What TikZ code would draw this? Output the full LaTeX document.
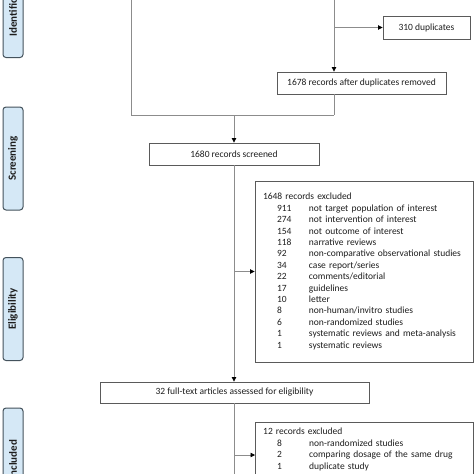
\documentclass[tikz,border=0pt]{standalone}
\usepackage{fontspec}
\setmainfont{Carlito}
\usetikzlibrary{arrows.meta,calc}
\definecolor{linegray}{HTML}{8C8C8C}
\definecolor{boxgray}{HTML}{5A5A5A}
\definecolor{phasefill}{HTML}{D5E8F6}
\definecolor{phaseedge}{HTML}{44525C}
\definecolor{txt}{HTML}{1E1E1E}
\newcommand{\itm}[2]{\hspace*{14pt}\makebox[32pt][l]{#1}#2}
\begin{document}
\begin{tikzpicture}[x=1pt,y=-1pt,
  box/.style={draw=boxgray, line width=0.9pt, fill=white, inner sep=0pt, text=txt,
    font=\fontsize{9.5}{11.4}\selectfont},
  listbox/.style={box, text width=202pt, align=left, inner xsep=8pt, inner ysep=0pt},
  listtext/.style={inner sep=0pt, text=txt, text width=202pt, align=left,
    font=\fontsize{9.5}{11.4}\selectfont},
  conn/.style={draw=linegray, line width=0.8pt},
  arrow/.style={conn, -{Triangle[length=4.5pt,width=4.5pt,color=black]}},
  phase/.style={draw=phaseedge, fill=phasefill, line width=1pt, rounded corners=3pt,
    rotate=90, minimum width=103pt, minimum height=20pt, inner sep=0pt, text=txt,
    font=\fontsize{11}{13}\selectfont\bfseries}]
\clip (0,0) rectangle (474,474);
\fill[white] (0,0) rectangle (474,474);

% phase labels
\node[phase] (p1) at (13,6) {Identification};
\node[phase] (p2) at (13,158.5) {Screening};
\node[phase] (p3) at (13,309) {Eligibility};
\node[phase] (p4) at (13,459.5) {Included};

% boxes
\node[box, minimum width=87pt, minimum height=23pt] (dup) at (426.5,27.5) {310 duplicates};
\node[box, minimum width=169pt, minimum height=22pt] (rem) at (361.5,83) {1678 records after duplicates removed};
\node[box, minimum width=170pt, minimum height=22pt] (scr) at (234,154) {1680 records screened};
\node[listbox, minimum height=181pt] (exa) at (364,271.5) {1648 records excluded\\
\itm{911}{not target population of interest}\\
\itm{274}{not intervention of interest}\\
\itm{154}{not outcome of interest}\\
\itm{118}{narrative reviews}\\
\itm{92}{non-comparative observational studies}\\
\itm{34}{case report/series}\\
\itm{22}{comments/editorial}\\
\itm{17}{guidelines}\\
\itm{10}{letter}\\
\itm{8}{non-human/invitro studies}\\
\itm{6}{non-randomized studies}\\
\itm{1}{systematic reviews and meta-analysis}\\
\itm{1}{systematic reviews}};
\node[box, minimum width=269pt, minimum height=21pt] (full) at (234.5,392.5) {32 full-text articles assessed for eligibility};
\node[box, minimum width=218pt, minimum height=90pt, anchor=north west] (exb) at (255,422) {};
\node[listtext, anchor=north west] (exbt) at ($(exb.north west)+(8,6)$) {12 records excluded\\
\itm{8}{non-randomized studies}\\
\itm{2}{comparing dosage of the same drug}\\
\itm{1}{duplicate study}};

% connectors
\coordinate (lt) at (131,-2);
\coordinate (rt) at (334,-2);
\coordinate (lb) at (131,115);
\coordinate (rb) at (334,115);
\coordinate (mid) at (234,115);
\coordinate (a2) at (234,455);
\coordinate (bot) at (234,480);
\draw[conn] (lt) -- (lb) -- (rb);
\draw[arrow] (rt) -- (rt |- rem.north);
\draw[arrow] (rt |- dup.west) -- (dup.west);
\draw[conn] (rt |- rem.south) -- (rb);
\draw[arrow] (mid) -- (scr.north);
\draw[arrow] (scr.south) -- (full.north -| scr.south);
\draw[arrow] (scr.south |- exa.west) -- (exa.west);
\draw[conn] (full.south -| scr.south) -- (bot);
\draw[arrow] (a2) -- (a2 -| exb.west);
\end{tikzpicture}
\end{document}
